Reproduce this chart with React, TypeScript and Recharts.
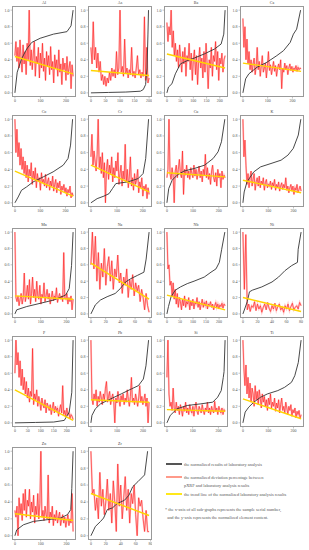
import { LineChart, Line, XAxis, YAxis } from "recharts";

type Pt = [number, number];

// sub-graph headers (tiny in the source, best reading)
const titles = ["Al", "As", "Ba", "Ca", "Co", "Cr", "Cu", "K", "Mn", "Na", "Nb", "Ni", "P", "Pb", "Si", "Ti", "Zn", "Zr"];
// last sample serial number of each sub-graph
const sampleCounts = [228, 200, 220, 235, 230, 224, 224, 230, 226, 79, 223, 80, 225, 223, 226, 230, 226, 78];

const t3 = [0, 100, 200];
const t5 = [0, 50, 100, 150, 200];
const t80 = [0, 20, 40, 60, 80];
const xTicks = [t3, t5, t5, t3, t3, t3, t3, t3, t3, t80, t5, t80, t5, t3, t3, t3, t3, t80];
const yTicks = [0, 0.2, 0.4, 0.6, 0.8, 1.0];

// trend line of each sub-graph: value at first and at last sample
const trends: Pt[] = [
  [0.44, 0.23], [0.27, 0.21], [0.47, 0.30], [0.36, 0.26],
  [0.38, 0.08], [0.45, 0.13], [0.36, 0.31], [0.27, 0.12],
  [0.22, 0.18], [0.62, 0.18], [0.23, 0.05], [0.20, 0.03],
  [0.40, 0.03], [0.28, 0.25], [0.16, 0.14], [0.29, 0.05],
  [0.26, 0.18], [0.50, 0.24],
];

// normalized laboratory results (sorted), [sample, value]
const alLab: Pt[] = [[0, 0], [9, 0.25], [26, 0.41], [46, 0.53], [66, 0.61], [99, 0.66], [151, 0.71], [204, 0.74], [220, 0.81], [228, 1]];
const asLab: Pt[] = [[0, 0], [60, 0.005], [120, 0.01], [170, 0.02], [180, 0.04], [188, 0.1], [193, 0.3], [196, 0.7], [198, 1]];
const baLab: Pt[] = [[0, 0], [6, 0.07], [19, 0.11], [32, 0.23], [51, 0.35], [77, 0.39], [103, 0.42], [141, 0.47], [180, 0.53], [205, 0.59], [215, 0.71], [220, 1]];
const caLab: Pt[] = [[0, 0], [11, 0.17], [24, 0.23], [57, 0.31], [97, 0.37], [137, 0.45], [164, 0.51], [191, 0.61], [204, 0.71], [217, 0.77], [233, 1]];
const coLab: Pt[] = [[0, 0], [13, 0.07], [26, 0.15], [46, 0.19], [72, 0.25], [112, 0.31], [151, 0.37], [191, 0.45], [210, 0.53], [220, 0.69], [228, 1]];
const crLab: Pt[] = [[0, 0], [24, 0.05], [50, 0.08], [70, 0.11], [83, 0.17], [96, 0.23], [142, 0.25], [182, 0.29], [201, 0.35], [211, 0.53], [222, 1]];
const cuLab: Pt[] = [[0, 0], [7, 0.17], [20, 0.27], [39, 0.33], [66, 0.38], [105, 0.41], [145, 0.45], [178, 0.53], [197, 0.61], [210, 0.73], [223, 1]];
const kLab: Pt[] = [[0, 0], [5, 0.13], [16, 0.25], [43, 0.37], [70, 0.43], [111, 0.47], [151, 0.51], [178, 0.57], [199, 0.65], [219, 0.81], [229, 1]];
const mnLab: Pt[] = [[0, 0], [7, 0.05], [46, 0.09], [99, 0.13], [151, 0.17], [197, 0.23], [211, 0.31], [220, 0.59], [226, 1]];
const naLab: Pt[] = [[0, 0], [6, 0.11], [13, 0.17], [22, 0.21], [33, 0.25], [40, 0.31], [47, 0.39], [54, 0.43], [63, 0.47], [72, 0.51], [75, 0.67], [79, 1]];
const nbLab: Pt[] = [[0, 0], [6, 0.09], [16, 0.21], [32, 0.29], [52, 0.33], [78, 0.37], [104, 0.4], [143, 0.45], [169, 0.51], [188, 0.55], [201, 0.63], [210, 0.79], [222, 1]];
const niLab: Pt[] = [[0, 0], [6, 0.15], [9, 0.27], [13, 0.29], [26, 0.33], [40, 0.39], [49, 0.45], [58, 0.53], [67, 0.59], [75, 0.63], [76, 0.79], [80, 1]];
const pLab: Pt[] = [[0, 0], [80, 0.005], [150, 0.01], [191, 0.03], [210, 0.13], [220, 0.37], [225, 1]];
const pbLab: Pt[] = [[0, 0], [4, 0.09], [17, 0.17], [37, 0.23], [76, 0.29], [116, 0.35], [155, 0.41], [182, 0.45], [201, 0.53], [211, 0.69], [221, 1]];
const siLab: Pt[] = [[0, 0], [13, 0.09], [39, 0.17], [79, 0.21], [132, 0.23], [178, 0.25], [197, 0.31], [211, 0.39], [219, 0.55], [222, 0.62], [226, 1]];
const tiLab: Pt[] = [[0, 0], [9, 0.13], [23, 0.19], [43, 0.25], [70, 0.31], [97, 0.35], [138, 0.39], [165, 0.43], [192, 0.49], [205, 0.57], [219, 0.73], [230, 1]];
const znLab: Pt[] = [[0, 0], [7, 0.07], [33, 0.13], [72, 0.17], [125, 0.19], [178, 0.21], [204, 0.25], [217, 0.31], [221, 0.56], [226, 1]];
const zrLab: Pt[] = [[0, 0], [6, 0.11], [13, 0.17], [17, 0.21], [22, 0.31], [29, 0.33], [35, 0.38], [45, 0.42], [51, 0.48], [56, 0.58], [63, 0.64], [72, 0.72], [76, 1]];

// normalized deviation between pXRF and lab results, evenly along the samples
const alDev = [0.45, 0.62, 0.38, 0.55, 0.30, 0.64, 0.42, 0.25, 0.58, 0.35, 0.50, 0.22, 0.60, 0.40, 1.00, 0.33, 0.52, 0.28, 0.47, 0.62, 0.20, 0.44, 0.35, 0.55, 0.18, 0.48, 0.30, 0.60, 0.26, 0.42, 0.15, 0.50, 0.32, 0.45, 0.22, 0.56, 0.28, 0.38, 0.12, 0.46, 0.30, 0.40, 0.20, 0.52, 0.25, 0.35, 0.10, 0.42, 0.28, 0.36, 0.15, 0.44, 0.22, 0.30, 0.38, 0.05, 0.34, 0.20];
const asDev = [0.55, 0.35, 0.86, 0.40, 0.55, 0.30, 0.48, 0.25, 0.38, 0.15, 0.22, 0.10, 0.20, 0.08, 0.18, 0.12, 0.25, 0.15, 0.30, 0.20, 0.28, 0.18, 0.50, 0.22, 0.30, 1.00, 0.25, 0.32, 0.20, 0.65, 0.24, 0.30, 0.18, 0.28, 0.22, 0.55, 0.20, 0.26, 0.18, 0.30, 0.45, 0.22, 0.28, 0.18, 0.25, 0.20, 0.92, 0.15, 0.55, 0.12, 0.18];
const baDev = [0.85, 0.62, 0.80, 0.70, 1.00, 0.55, 0.75, 0.45, 0.60, 0.38, 0.52, 0.30, 0.58, 0.42, 0.25, 0.50, 0.35, 0.55, 0.20, 0.45, 0.38, 0.60, 0.28, 0.48, 0.15, 0.40, 0.52, 0.22, 0.45, 0.10, 0.38, 0.55, 0.30, 0.42, 0.18, 0.50, 0.25, 0.60, 0.35, 0.05, 0.40, 0.30, 0.55, 0.20, 0.45, 0.38, 0.62, 0.28, 0.50, 0.15, 0.42, 0.35, 0.48, 0.25, 0.40, 0.45];
const caDev = [0.90, 0.55, 0.80, 0.40, 0.65, 0.35, 0.50, 0.28, 0.40, 0.25, 0.35, 0.42, 0.22, 0.32, 0.55, 0.28, 0.38, 0.20, 0.33, 0.45, 0.25, 0.30, 0.36, 0.18, 0.32, 0.50, 0.27, 0.34, 0.22, 0.30, 0.38, 0.26, 0.33, 0.20, 0.30, 0.35, 0.28, 0.40, 0.05, 0.30, 0.25, 0.36, 0.28, 0.33, 0.22, 0.30, 0.35, 0.27, 0.32, 0.25, 0.30, 0.28, 0.33, 0.26, 0.31, 0.28, 0.30, 0.29];
const coDev = [1.00, 0.60, 0.88, 0.55, 0.72, 0.45, 0.65, 0.40, 0.55, 0.35, 0.50, 0.30, 0.45, 0.25, 0.40, 0.32, 0.48, 0.22, 0.38, 0.28, 0.42, 0.18, 0.35, 0.26, 0.30, 0.15, 0.36, 0.24, 0.28, 0.20, 0.34, 0.18, 0.25, 0.30, 0.15, 0.26, 0.20, 0.32, 0.14, 0.22, 0.28, 0.12, 0.24, 0.18, 0.26, 0.10, 0.20, 0.15, 0.22, 0.12, 0.18, 0.08, 0.16, 0.12, 0.20, 0.06, 0.12, 0.08];
const crDev = [0.55, 0.82, 0.45, 0.62, 0.50, 0.38, 0.58, 1.00, 0.42, 0.55, 0.35, 0.60, 0.30, 0.48, 0.00, 0.40, 0.52, 0.28, 0.45, 0.35, 0.55, 0.25, 0.42, 0.30, 0.50, 0.38, 0.60, 0.22, 0.35, 0.45, 0.20, 0.38, 0.28, 0.70, 0.25, 0.40, 0.18, 0.32, 0.55, 0.20, 0.30, 0.15, 0.35, 0.22, 0.28, 0.40, 0.12, 0.25, 0.18, 0.30, 0.08, 0.20, 0.15, 0.22, 0.05, 0.18, 0.10];
const cuDev = [0.30, 0.40, 1.00, 0.35, 0.28, 0.42, 0.32, 0.00, 0.38, 0.45, 0.30, 0.40, 0.52, 0.35, 0.30, 0.62, 0.10, 0.40, 0.33, 0.45, 0.30, 0.38, 0.28, 0.42, 0.35, 0.30, 0.45, 0.32, 0.40, 0.28, 0.36, 0.44, 0.30, 0.38, 0.25, 0.40, 0.33, 0.58, 0.30, 0.42, 0.28, 0.35, 0.22, 0.38, 0.45, 0.30, 0.25, 0.36, 0.20, 0.40, 0.30, 0.35, 0.18, 0.38, 0.28, 0.33, 0.30];
const kDev = [1.00, 0.55, 0.75, 0.45, 0.22, 0.35, 0.18, 0.30, 0.38, 0.20, 0.28, 0.35, 0.15, 0.25, 0.30, 0.20, 0.32, 0.18, 0.26, 0.22, 0.30, 0.15, 0.24, 0.28, 0.18, 0.22, 0.20, 0.26, 0.16, 0.24, 0.20, 0.28, 0.15, 0.22, 0.18, 0.25, 0.14, 0.20, 0.24, 0.16, 0.22, 0.18, 0.30, 0.15, 0.20, 0.12, 0.18, 0.22, 0.14, 0.20, 0.10, 0.18, 0.15, 0.22, 0.12, 0.16, 0.20, 0.14];
const mnDev = [1.00, 0.20, 0.15, 0.22, 0.10, 0.18, 0.25, 0.12, 0.20, 0.50, 0.15, 0.22, 0.35, 0.18, 0.42, 0.12, 0.25, 0.45, 0.20, 0.30, 0.15, 0.40, 0.22, 0.18, 0.35, 0.12, 0.24, 0.20, 0.38, 0.15, 0.22, 0.30, 0.18, 0.25, 0.12, 0.20, 0.28, 0.16, 0.22, 0.18, 0.32, 0.14, 0.20, 0.25, 0.18, 0.22, 0.15, 0.75, 0.20, 0.18, 0.25, 0.12, 0.20, 0.15, 0.22, 0.05, 0.18];
const naDev = [0.60, 1.00, 0.55, 0.95, 0.40, 0.75, 0.30, 0.62, 0.45, 0.80, 0.35, 0.58, 0.70, 0.40, 0.65, 0.30, 0.55, 0.45, 0.72, 0.38, 0.50, 0.25, 0.45, 0.35, 0.55, 0.20, 0.42, 0.30, 0.48, 0.22, 0.38, 0.28, 0.35, 0.15, 0.30, 0.20, 0.05, 0.25, 0.10, 0.02];
const nbDev = [1.00, 0.55, 0.60, 0.35, 0.40, 0.22, 0.38, 0.18, 0.30, 0.12, 0.25, 0.08, 0.20, 0.15, 0.05, 0.18, 0.10, 0.22, 0.08, 0.15, 0.12, 0.20, 0.05, 0.16, 0.10, 0.18, 0.06, 0.14, 0.12, 0.20, 0.08, 0.15, 0.05, 0.12, 0.18, 0.08, 0.14, 0.10, 0.16, 0.06, 0.12, 0.10, 0.15, 0.08, 0.12, 0.05, 0.10, 0.14, 0.08, 0.12, 0.06, 0.11, 0.09, 0.13, 0.07, 0.12, 0.10];
const niDev = [1.00, 0.30, 0.97, 0.05, 0.12, 0.03, 0.10, 0.08, 0.15, 0.04, 0.12, 0.06, 0.10, 0.02, 0.08, 0.12, 0.05, 0.14, 0.07, 0.03, 0.10, 0.06, 0.13, 0.04, 0.09, 0.12, 0.05, 0.08, 0.02, 0.10, 0.06, 0.12, 0.04, 0.09, 0.13, 0.05, 0.08, 0.10, 0.06, 0.14, 0.10];
const pDev = [0.60, 1.00, 0.70, 0.85, 0.55, 0.75, 0.45, 0.65, 0.40, 0.55, 0.35, 0.50, 0.30, 0.42, 0.25, 0.38, 0.32, 0.90, 0.22, 0.35, 0.28, 0.40, 0.20, 0.32, 0.25, 0.15, 0.30, 0.22, 0.18, 0.28, 0.12, 0.24, 0.20, 0.15, 0.22, 0.10, 0.18, 0.25, 0.12, 0.20, 0.15, 0.18, 0.08, 0.16, 0.22, 0.12, 0.45, 0.10, 0.15, 0.08, 0.18, 0.10, 0.12, 0.05, 0.10, 0.08, 0.04];
const pbDev = [1.00, 0.30, 0.22, 0.35, 0.28, 0.40, 0.20, 0.32, 0.25, 0.38, 0.30, 0.22, 0.35, 0.28, 0.42, 0.50, 0.25, 0.32, 0.38, 0.22, 0.30, 0.35, 0.26, 0.00, 0.30, 0.24, 0.38, 0.28, 0.20, 0.33, 0.27, 0.35, 0.22, 0.30, 0.25, 0.40, 0.28, 0.20, 0.32, 0.55, 0.25, 0.30, 0.22, 0.35, 0.28, 0.20, 0.30, 0.45, 0.25, 0.32, 0.22, 0.28, 0.35, 0.20, 0.30, 0.00, 0.25];
const siDev = [0.55, 1.00, 0.35, 0.20, 0.25, 0.15, 0.42, 0.18, 0.12, 0.25, 0.15, 0.20, 0.10, 0.22, 0.16, 0.08, 0.20, 0.14, 0.25, 0.12, 0.18, 0.10, 0.22, 0.15, 0.12, 0.20, 0.08, 0.18, 0.25, 0.14, 0.10, 0.20, 0.16, 0.12, 0.22, 0.15, 0.10, 0.18, 0.14, 0.25, 0.12, 0.18, 0.10, 0.20, 0.15, 0.12, 0.26, 0.14, 0.18, 0.10, 0.20, 0.15, 0.12, 0.18, 0.10, 0.16, 0.14];
const tiDev = [1.00, 0.65, 0.45, 0.70, 0.35, 0.55, 0.30, 0.48, 0.25, 0.42, 0.35, 0.20, 0.45, 0.28, 0.38, 0.22, 0.40, 0.30, 0.18, 0.35, 0.25, 0.32, 0.20, 0.28, 0.15, 0.30, 0.22, 0.35, 0.18, 0.25, 0.20, 0.30, 0.14, 0.24, 0.18, 0.28, 0.12, 0.22, 0.30, 0.15, 0.20, 0.12, 0.25, 0.18, 0.10, 0.20, 0.15, 0.22, 0.08, 0.16, 0.12, 0.18, 0.06, 0.14, 0.10, 0.15, 0.05, 0.10];
const znDev = [0.30, 0.22, 0.35, 0.00, 0.45, 0.25, 0.38, 0.18, 0.50, 0.30, 0.55, 0.22, 0.42, 0.35, 0.55, 0.20, 0.40, 0.28, 0.48, 0.15, 0.35, 0.25, 0.50, 0.20, 0.38, 1.00, 0.22, 0.30, 0.18, 0.35, 0.25, 0.20, 0.72, 0.15, 0.28, 0.22, 0.35, 0.12, 0.25, 0.18, 0.30, 0.15, 0.22, 0.28, 0.12, 0.20, 0.25, 0.15, 0.22, 0.10, 0.18, 0.25, 0.12, 0.20, 0.15, 0.50, 0.05];
const zrDev = [1.00, 0.50, 0.55, 0.30, 0.45, 0.20, 0.75, 0.35, 0.55, 0.25, 0.40, 0.67, 0.30, 0.50, 0.15, 0.65, 0.40, 0.05, 0.85, 0.35, 0.60, 0.20, 0.45, 0.70, 0.30, 0.55, 0.15, 0.50, 0.38, 0.60, 0.25, 0.00, 0.45, 0.35, 0.42, 0.20, 0.05, 0.30, 0.05, 0.05];

const labCurves = [alLab, asLab, baLab, caLab, coLab, crLab, cuLab, kLab, mnLab, naLab, nbLab, niLab, pLab, pbLab, siLab, tiLab, znLab, zrLab];
const devSeries = [alDev, asDev, baDev, caDev, coDev, crDev, cuDev, kDev, mnDev, naDev, nbDev, niDev, pDev, pbDev, siDev, tiDev, znDev, zrDev];

// frame layout of the 4 x 5 grid
const colLeft = [12, 88, 164, 240];
const rowTop = [6, 115, 228, 336, 447];
const rowHeight = [91, 92, 90, 91, 93];
const FRAME_W = 64;
const Y_AXIS_W = 12;
const X_AXIS_H = 10;

const FONT = "'Liberation Serif', 'DejaVu Serif', serif";
const tickStyle = { fontSize: 4, fill: "#555", fontFamily: FONT };

function Panel({ idx }: { idx: number }) {
  const row = Math.floor(idx / 4);
  const col = idx % 4;
  const left = colLeft[col];
  const top = rowTop[row];
  const h = rowHeight[row];
  const n = sampleCounts[idx];

  const dev = devSeries[idx].map((y, i, a) => ({ x: (i * n) / (a.length - 1), y }));
  const lab = labCurves[idx].map(([x, y]) => ({ x, y }));
  const trend = [
    { x: 0, y: trends[idx][0] },
    { x: n, y: trends[idx][1] },
  ];

  return (
    <>
      <div
        style={{
          position: "absolute", left, top: top - 5, width: FRAME_W, height: 4,
          fontSize: 4, lineHeight: "4px", textAlign: "center", color: "#444", fontFamily: FONT,
        }}
      >
        {titles[idx]}
      </div>
      <div style={{ position: "absolute", left: left - Y_AXIS_W, top }}>
        <LineChart width={FRAME_W + Y_AXIS_W} height={h + X_AXIS_H} margin={{ top: 0, right: 0, bottom: 0, left: 0 }}>
          <XAxis
            type="number" dataKey="x" domain={[-0.05 * n, 1.05 * n]} ticks={xTicks[idx]}
            allowDataOverflow height={X_AXIS_H} axisLine={false}
            tickLine={{ stroke: "#888", strokeWidth: 0.5 }} tickSize={1.5} tickMargin={0.5}
            tick={tickStyle} interval={0}
          />
          <YAxis
            type="number" dataKey="y" domain={[-0.05, 1.05]} ticks={yTicks}
            allowDataOverflow width={Y_AXIS_W} axisLine={false}
            tickLine={{ stroke: "#888", strokeWidth: 0.5 }} tickSize={1.5} tickMargin={1}
            tick={tickStyle} tickFormatter={(v: number) => v.toFixed(1)} interval={0}
          />
          {/* pink halo + thin red line = the overlapped look of the deviation series */}
          <Line data={dev} dataKey="y" stroke="#ff8c8c" strokeWidth={1.8} strokeOpacity={0.5} dot={false} isAnimationActive={false} />
          <Line data={dev} dataKey="y" stroke="#ff1a1a" strokeWidth={0.6} dot={false} isAnimationActive={false} />
          <Line data={lab} dataKey="y" stroke="#333" strokeWidth={0.9} dot={false} isAnimationActive={false} />
          <Line data={trend} dataKey="y" stroke="#ffd400" strokeWidth={1.4} dot={false} isAnimationActive={false} />
        </LineChart>
      </div>
      <div
        style={{
          position: "absolute", left, top, width: FRAME_W, height: h,
          border: "0.8px solid #999", boxSizing: "border-box", pointerEvents: "none",
        }}
      />
    </>
  );
}

function LegendRow({ top, color, lines }: { top: number; color: string; lines: string[] }) {
  return (
    <>
      <div style={{ position: "absolute", left: 166, top: top - 0.75, width: 16, height: 1.5, background: color }} />
      {lines.map((t, i) => (
        <div
          key={i}
          style={{
            position: "absolute", left: 184, top: top - 2.5 + i * 8, fontSize: 4.4,
            lineHeight: "5px", color: "#555", whiteSpace: "nowrap", fontFamily: FONT,
          }}
        >
          {t}
        </div>
      ))}
    </>
  );
}

export default function App() {
  return (
    <div style={{ position: "absolute", left: 0, top: 0, width: 309, height: 550, background: "#fff", overflow: "hidden" }}>
      {titles.map((_, i) => (
        <Panel key={i} idx={i} />
      ))}
      <LegendRow top={464} color="#555" lines={["the normalized results of laboratory analysis"]} />
      <LegendRow
        top={477}
        color="#ff9a8a"
        lines={["the normalized deviation percentage between", "pXRF and laboratory analysis results"]}
      />
      <LegendRow top={494} color="#ffe81a" lines={["the trend line of the normalized laboratory analysis results"]} />
      <div style={{ position: "absolute", left: 165, top: 505.5, fontSize: 4.4, lineHeight: "8px", color: "#555", whiteSpace: "nowrap", fontFamily: FONT }}>
        * the x-axis of all sub-graphs represents the sample serial number,
        <br />
        &nbsp;&nbsp;and the y-axis represents the normalized element content.
      </div>
    </div>
  );
}
